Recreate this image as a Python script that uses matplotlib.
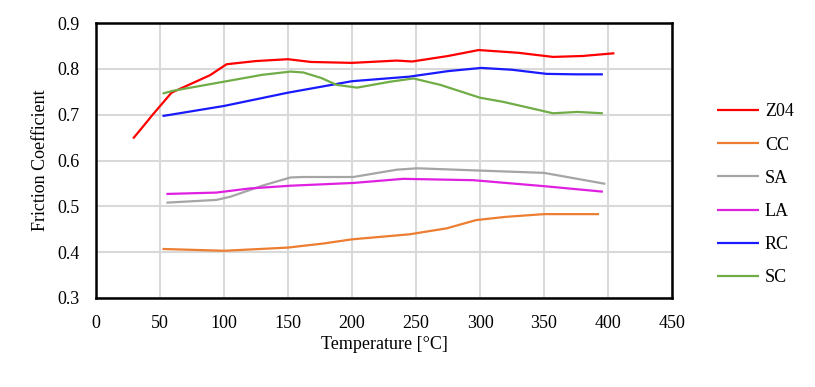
import matplotlib
matplotlib.use("Agg")
import matplotlib.pyplot as plt

z04_x = [29, 37, 44, 59, 89, 102, 125, 150, 168, 200, 235, 247, 275, 299, 330, 357, 380, 405]
z04_y = [0.648, 0.675, 0.699, 0.748, 0.786, 0.810, 0.817, 0.821, 0.815, 0.813, 0.818, 0.816, 0.828, 0.841, 0.835, 0.826, 0.828, 0.834]

cc_x = [52, 100, 150, 178, 200, 245, 274, 297, 320, 350, 393]
cc_y = [0.407, 0.403, 0.410, 0.419, 0.428, 0.439, 0.452, 0.470, 0.477, 0.483, 0.483]

sa_x = [55, 94, 105, 131, 152, 162, 201, 235, 251, 300, 350, 398]
sa_y = [0.508, 0.514, 0.521, 0.546, 0.563, 0.564, 0.564, 0.580, 0.583, 0.578, 0.573, 0.549]

la_x = [55, 94, 120, 152, 201, 240, 295, 350, 396]
la_y = [0.527, 0.530, 0.539, 0.545, 0.551, 0.560, 0.557, 0.544, 0.532]

rc_x = [52, 100, 150, 200, 245, 275, 301, 325, 352, 375, 396]
rc_y = [0.697, 0.719, 0.748, 0.773, 0.783, 0.795, 0.802, 0.798, 0.789, 0.788, 0.788]

sc_x = [52, 60, 100, 130, 152, 162, 176, 188, 204, 230, 248, 269, 300, 318, 340, 357, 376, 396]
sc_y = [0.746, 0.752, 0.772, 0.787, 0.794, 0.792, 0.780, 0.765, 0.759, 0.772, 0.779, 0.765, 0.737, 0.728, 0.714, 0.703, 0.706, 0.703]

series = [
    ("Z04", z04_x, z04_y, "#ff0000"),
    ("CC", cc_x, cc_y, "#ed7d31"),
    ("SA", sa_x, sa_y, "#a5a5a5"),
    ("LA", la_x, la_y, "#e020e0"),
    ("RC", rc_x, rc_y, "#1a1aff"),
    ("SC", sc_x, sc_y, "#70ad47"),
]

x_ticks = [0, 50, 100, 150, 200, 250, 300, 350, 400, 450]
y_ticks = [0.3, 0.4, 0.5, 0.6, 0.7, 0.8, 0.9]

plt.rcParams['font.family'] = ['Liberation Serif', 'DejaVu Serif']
fig = plt.figure(figsize=(8.15, 3.87), dpi=100)
ax = fig.add_axes([96/815, 1-298/387, (672-96)/815, (298-23)/387])

for name, xs, ys, c in series:
    ax.plot(xs, ys, color=c, lw=1.6, label=name, solid_joinstyle='round', solid_capstyle='butt')

ax.set_xlim(0, 450)
ax.set_ylim(0.3, 0.9)
ax.set_xticks(x_ticks)
ax.set_yticks(y_ticks)
ax.set_yticklabels([f"{v:.1f}" for v in y_ticks])
ax.grid(True, color="#d9d9d9", lw=1.5)
ax.set_axisbelow(True)
for s in ax.spines.values():
    s.set_linewidth(1.8)
    s.set_color("black")
ax.tick_params(axis='both', length=0, labelsize=13)
ax.tick_params(axis='x', pad=12)
ax.tick_params(axis='y', pad=12)
ax.set_xlabel("Temperature [°C]", fontsize=13, labelpad=3)
ax.set_ylabel("Friction Coefficient", fontsize=13, labelpad=6)

ax.legend(loc="center left", bbox_to_anchor=(1.05, 0.375), frameon=False, fontsize=13,
          handlelength=2.3, labelspacing=0.9, handletextpad=0.35)

fig.savefig("out.png", dpi=100)
